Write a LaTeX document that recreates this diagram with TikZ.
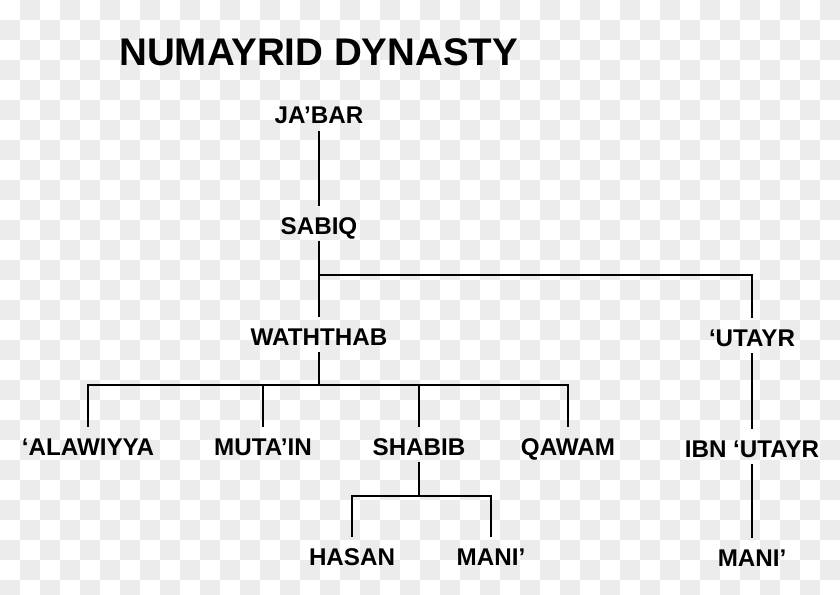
\documentclass[tikz,border=0pt]{standalone}
\usepackage{fontspec}
\setmainfont{Liberation Sans}
\usepackage{tikz}
\definecolor{checkgray}{gray}{0.925}
\tikzset{
  person/.style={font=\bfseries\fontsize{17.2}{19}\selectfont,anchor=base,
    text height=15pt,text depth=0pt,inner xsep=2pt,inner ysep=5pt},
  title/.style={font=\bfseries\fontsize{27.4}{30}\selectfont,anchor=base west,inner sep=0pt},
  link/.style={line width=2.1pt}
}
\begin{document}
\begin{tikzpicture}[x=0.025cm,y=0.025cm]
\useasboundingbox (0,0) rectangle (840,594);
\fill[white] (0,0) rectangle (840,594);
\begin{scope}
\clip (0,0) rectangle (840,594);
\foreach \i in {0,...,41}{\foreach \j in {0,...,29}{%
  \pgfmathparse{int(mod(\i+\j,2))}%
  \ifnum\pgfmathresult=1 \fill[checkgray] (20*\i,594-20*\j) rectangle ++(20,-20);\fi}}
\end{scope}
% title
\node[title] (ttl) at (119,528) {NUMAYRID DYNASTY};
% people
\node[person] (jabar) at (319,470) {JA’BAR};
\node[person] (sabiq) at (319,360) {SABIQ};
\node[person] (waththab) at (319,249) {WATHTHAB};
\node[person] (utayr) at (752,248) {‘UTAYR};
\node[person] (alawiyya) at (88,139) {‘ALAWIYYA};
\node[person] (mutain) at (263,139) {MUTA’IN};
\node[person] (shabib) at (419,139) {SHABIB};
\node[person] (qawam) at (568,139) {QAWAM};
\node[person] (ibnutayr) at (752,137) {IBN ‘UTAYR};
\node[person] (hasan) at (352,29) {HASAN};
\node[person] (manis) at (491,29) {MANI’};
\node[person] (manii) at (752,28) {MANI’};
% junctions
\coordinate (sj) at (319,319);
\coordinate (wj) at (319,209);
\coordinate (shj) at (419,98);
% links
\draw[link] (jabar) -- (sabiq);
\draw[link] (sabiq) -- (waththab);
\draw[link] (sj) -| (utayr);
\draw[link] (utayr) -- (ibnutayr);
\draw[link] (ibnutayr) -- (manii);
\draw[link] (waththab) -- (wj);
\draw[link] (wj) -| (alawiyya);
\draw[link] (wj) -| (mutain);
\draw[link] (wj) -| (shabib);
\draw[link] (wj) -| (qawam);
\draw[link] (shabib) -- (shj);
\draw[link] (shj) -| (hasan);
\draw[link] (shj) -| (manis);
\end{tikzpicture}
\end{document}
